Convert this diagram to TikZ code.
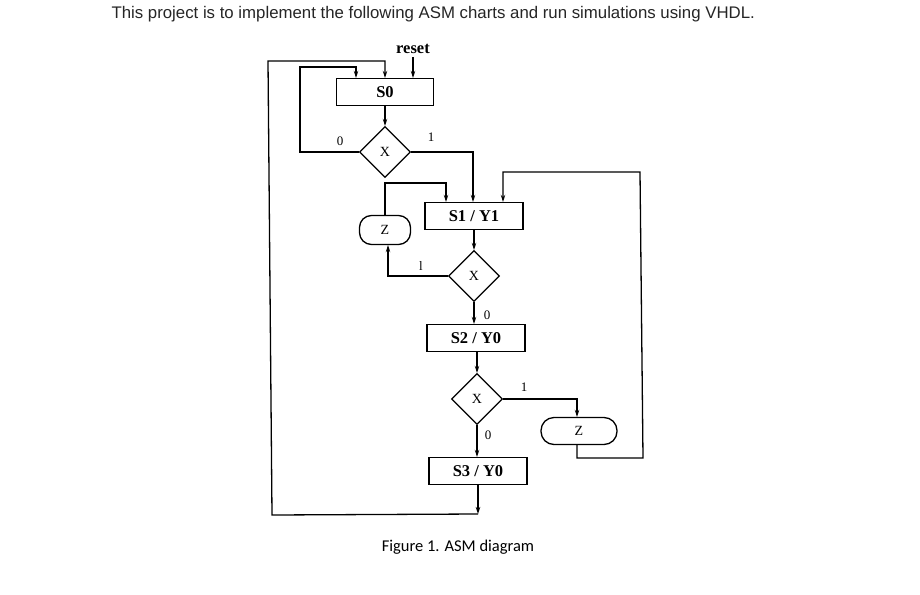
\documentclass[tikz,border=0pt]{standalone}
\usepackage{fontspec}
\setmainfont{Liberation Serif}
\newfontfamily\hdrfont{Liberation Sans}
\newfontfamily\capfont{Carlito}
\usetikzlibrary{shapes.geometric,arrows.meta}
\begin{document}
\begin{tikzpicture}[x=1pt,y=-1pt,
  st/.style={draw,line width=1.3pt,rectangle,minimum width=98pt,minimum height=27pt,inner sep=0pt,font=\bfseries\fontsize{16.5}{16.5}\selectfont},
  dm/.style={draw,line width=1.3pt,diamond,minimum width=51pt,minimum height=51pt,inner sep=0pt,font=\fontsize{14}{14}\selectfont},
  co/.style={draw,line width=1.3pt,inner sep=0pt,font=\fontsize{14}{14}\selectfont},
  ar/.style={line width=1.3pt,-{Stealth[length=7pt,width=4.5pt]}},
  lb/.style={font=\fontsize{13}{13}\selectfont,inner sep=0pt}]
\useasboundingbox[fill=white] (0,0) rectangle (920,594);
\node[anchor=west,font=\hdrfont\fontsize{16.8}{16.8}\selectfont,text=black!85] (title) at (108,14) {This project is to implement the following ASM charts and run simulations using VHDL.};
\node[font=\capfont\fontsize{16.5}{16.5}\selectfont] (caption) at (458,547) {Figure 1. ASM diagram};
\node[st,minimum width=97pt] (s0) at (385,92) {S0};
\node[dm] (d1) at (385,152) {X};
\node[st] (s1) at (474,216) {S1 / Y1};
\node[co,rounded corners=12pt,minimum width=51pt,minimum height=29pt] (z1) at (385,230) {Z};
\node[dm] (d2) at (474,276) {X};
\node[st] (s2) at (476,338) {S2 / Y0};
\node[dm] (d3) at (477,399) {X};
\node[co,rounded corners=13pt,minimum width=76pt,minimum height=27pt] (z2) at (579,431) {Z};
\node[st] (s3) at (478,471) {S3 / Y0};
\node[font=\bfseries\fontsize{16.5}{16.5}\selectfont] (rs) at (413,49) {reset};
\coordinate (bot) at (478,514);
\node[lb] (l0a) at (340,141) {0};
\node[lb] (l1a) at (431,137) {1};
\node[lb] (l1b) at (421,266) {l};
\node[lb] (l0b) at (487,315) {0};
\node[lb] (l1c) at (524,387) {1};
\node[lb] (l0c) at (488,435) {0};
\draw[ar] (rs.south) -- (rs.south |- s0.north);
\draw[ar] (s0) -- (d1);
\draw[ar] (d1.west) -- (300,152) -- (300,67) -- (356,67) -- (356,0 |- s0.north);
\draw[ar] (d1.east) -- (473,152) -- (473,0 |- s1.north);
\draw[ar] (z1.north) -- (385,183) -- (446,183) -- (446,0 |- s1.north);
\draw[ar] (s1) -- (d2);
\draw[ar] (d2.west) -- (388,276) -- (388,0 |- z1.south);
\draw[ar] (d2) -- (d2 |- s2.north);
\draw[ar] (s2.south -| d3) -- (d3);
\draw[ar] (d3.east) -- (577,399) -- (577,0 |- z2.north);
\draw[ar] (z2.south -| 577,0) -- (577,458) -- (643,458) -- (640,172) -- (503,172) -- (503,0 |- s1.north);
\draw[ar] (d3) -- (d3 |- s3.north);
\draw[ar] (s3) -- (bot);
\draw[ar] (bot) -- (272,515) -- (268,61) -- (385,61) -- (385,0 |- s0.north);
\end{tikzpicture}
\end{document}
